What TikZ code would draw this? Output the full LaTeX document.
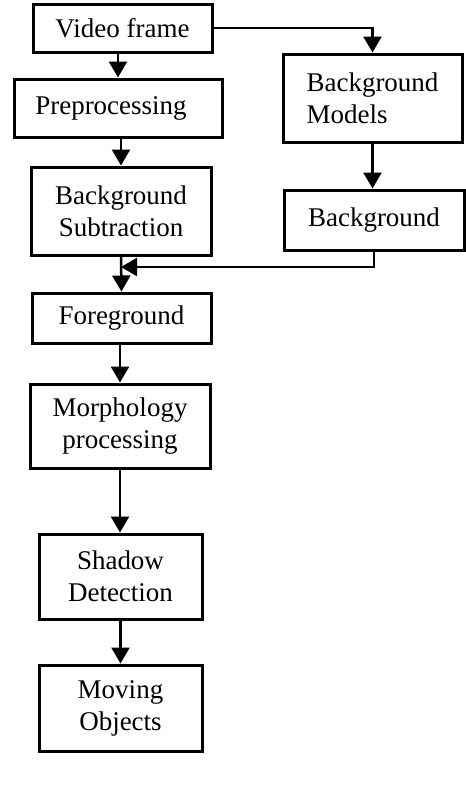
\documentclass[tikz,border=0pt]{standalone}
\usepackage{fontspec}
\setmainfont{Liberation Serif}
\usetikzlibrary{arrows.meta}

\begin{document}
\begin{tikzpicture}[x=1pt,y=-1pt,
        box/.style={draw,line width=3pt,align=center,inner sep=0pt,
            font=\fontsize{27}{32}\selectfont},
        arr/.style={line width=2.5pt,-{Triangle[length=16pt,width=18pt]}}]
        \useasboundingbox (0,0) rectangle (466,788);

        % left column
        \node[box,minimum width=179pt,minimum height=48pt](vf)at(122.5,28){Video frame};
        \node[box,minimum width=208pt,minimum height=58pt](pre)at(118,108){Preprocessing\hspace*{14pt}};
        \node[box,minimum width=180pt,minimum height=88pt](bs)at(121,211){Background\\Subtraction};
        \node[box,minimum width=179pt,minimum height=50pt](fg)at(121.5,318){Foreground};
        \node[box,minimum width=180pt,minimum height=84pt](mp)at(120,426){Morphology\\processing};
        \node[box,minimum width=163pt,minimum height=85pt](sd)at(120.5,576.5){Shadow\\Detection};
        \node[box,minimum width=163pt,minimum height=86pt](mo)at(120.5,708){Moving\\Objects};

        % right column
        \node[box,align=left,minimum width=179pt,minimum height=88pt](bm)at(372.5,98){Background\\Models};
        \node[box,minimum width=180pt,minimum height=60pt](bg)at(374,220){Background};
        \coordinate(j)at(121,267);

        \draw[arr](vf.south -| pre)--(pre.north);
        \draw[arr](vf.east)-|(bm.north);
        \draw[arr](pre.south -| bs)--(bs.north);
        \draw[arr](bm.south)--(bm.south |- bg.north);
        \draw[arr](bg.south)|-(j);
        \draw[arr](bs.south)--(fg.north);
        \draw[arr](fg.south -| mp)--(mp.north);
        \draw[arr](mp.south)--(mp.south |- sd.north);
        \draw[arr](sd.south)--(mo.north);
    \end{tikzpicture}
\end{document}
